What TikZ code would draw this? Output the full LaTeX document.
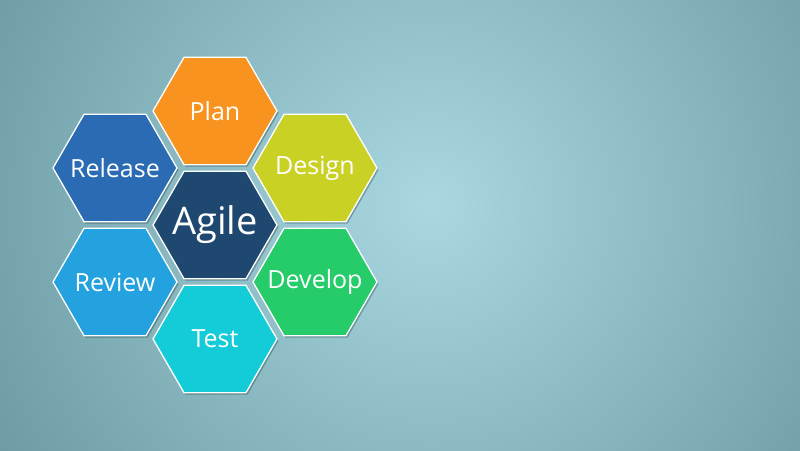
\documentclass[tikz,border=0pt]{standalone}
\usepackage{fontspec}
\setmainfont{Open Sans}
\usepackage{tikz}
\usetikzlibrary{shapes.geometric,shadows}
\definecolor{bginner}{HTML}{A9D8E2}
\definecolor{bgouter}{HTML}{6A99A1}
\definecolor{agilecol}{HTML}{1E4870}
\definecolor{plancol}{HTML}{F7931E}
\definecolor{designcol}{HTML}{C9D124}
\definecolor{developcol}{HTML}{26CB6A}
\definecolor{testcol}{HTML}{14CCD8}
\definecolor{reviewcol}{HTML}{24A2DF}
\definecolor{releasecol}{HTML}{2B6BB3}
\tikzset{
	hexa/.style={regular polygon, regular polygon sides=6, minimum size=124pt,
		inner sep=0pt, draw=white, line width=1.3pt,
		drop shadow={shadow xshift=1.5pt, shadow yshift=-2pt, opacity=0.3, fill=black!70!teal}},
	hextext/.style={text=white, inner sep=0pt, font=\fontsize{25}{30}\selectfont},
	agiletext/.style={hextext, font=\fontsize{38}{44}\selectfont},
}

\begin{document}
\begin{tikzpicture}[x=1pt, y=-1pt]
	\begin{scope}
		\clip (0,0) rectangle (800,450);
		\shade[inner color=bginner, outer color=bgouter] (430,205) circle (520pt);
	\end{scope}
	\useasboundingbox (0,0) rectangle (800,450);
	\node (agile) [hexa, fill=agilecol, label={[agiletext]center:Agile}] at (215, 225) {};
	\node (plan) [hexa, fill=plancol, label={[hextext]center:Plan}] at (215, 111) {};
	\node (design) [hexa, fill=designcol, label={[hextext]center:Design}] at (315, 168) {};
	\node (develop) [hexa, fill=developcol, label={[hextext]center:Develop}] at (315, 282) {};
	\node (test) [hexa, fill=testcol, label={[hextext]center:Test}] at (215, 339) {};
	\node (review) [hexa, fill=reviewcol, label={[hextext]center:Review}] at (115, 282) {};
	\node (release) [hexa, fill=releasecol, label={[hextext]center:Release}] at (115, 168) {};
\end{tikzpicture}
\end{document}
